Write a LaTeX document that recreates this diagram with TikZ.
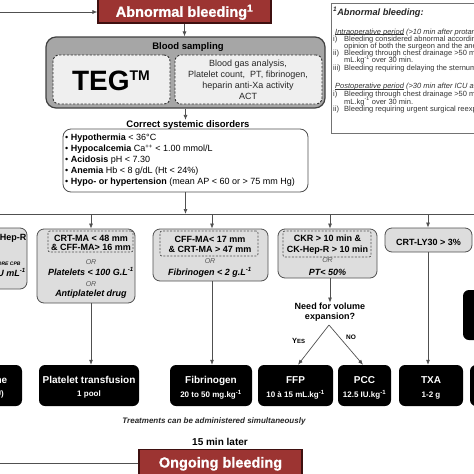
\documentclass[tikz,border=0pt]{standalone}
\usepackage{fontspec}
\setmainfont{Liberation Sans}
\newfontface\heavy{Liberation Sans Bold}[FakeBold=1.2]
\usetikzlibrary{arrows.meta}
\definecolor{redfill}{HTML}{9C3432}
\definecolor{redborder}{HTML}{3F1010}
\definecolor{condfill}{HTML}{DDDDDD}
\definecolor{linegray}{HTML}{505050}
\definecolor{outergray}{HTML}{A6A6A6}
\definecolor{innerfill}{HTML}{EFEFEF}
\definecolor{ortext}{HTML}{555555}
\newcommand\fs[2]{\fontsize{#1}{#2}\selectfont}
\newcommand\ulin[1]{\setbox0\hbox{#1}\rlap{\rule[-0.7pt]{\wd0}{0.35pt}}\box0\relax}
\begin{document}
\begin{tikzpicture}[x=1pt,y=-1pt,
  redbox/.style={draw=redborder, fill=redfill, line width=1.2pt, inner sep=0},
  notebox/.style={draw=black!55, fill=white, line width=0.8pt, inner sep=0},
  outerbox/.style={draw=black!75, fill=outergray, line width=1.2pt, rounded corners=10pt, inner sep=0},
  innerbox/.style={draw=black!80, fill=innerfill, line width=0.9pt, dash pattern=on 2.2pt off 1.6pt, rounded corners=6pt, inner sep=0},
  whitebox/.style={draw=linegray, fill=white, line width=0.8pt, rounded corners=8pt, inner sep=0},
  condbox/.style={draw=linegray, fill=condfill, line width=0.8pt, rounded corners=7pt, inner sep=0},
  dashbox/.style={draw=linegray, line width=0.7pt, dash pattern=on 2pt off 1.5pt, rounded corners=2pt, inner sep=0},
  blackbox/.style={fill=black, rounded corners=6pt, inner sep=0},
  txt/.style={inner sep=0, anchor=base},
  bold9/.style={txt, font=\bfseries\fs{9}{10}},
  bi9/.style={txt, font=\bfseries\itshape\fs{9}{10}},
  ortxt/.style={txt, font=\itshape\fs{7}{8}, text=ortext},
  ttl/.style={txt, font=\bfseries\fs{10}{11}, text=white},
  dose/.style={txt, font=\bfseries\fs{8}{9}, text=white},
  fnl/.style={txt, anchor=base west, font=\fs{7.5}{7.6}, text=black!80},
  line/.style={draw=linegray, line width=0.7pt},
  arr/.style={line, -{Latex[length=5pt,width=4pt]}}
]
\useasboundingbox (0,0) rectangle (474,474);
\clip (0,0) rectangle (474,474);

% top red box
\node[redbox, minimum width=173, minimum height=27] (ab) at (184.5,9.5) {};
\node[txt, font=\heavy\fs{14.5}{16}, text=white] (abt) at (184.5,16.8) {Abnormal bleeding\textsuperscript{1}};
\coordinate (loopT) at (-5,12);
\draw[arr] (loopT) -- (loopT -| ab.west);

% footnote box
\node[notebox, minimum width=150, minimum height=130, anchor=north west] (fn) at (331,3) {};
\node[txt, anchor=base west, font=\bfseries\itshape\fs{9.2}{10}, text=black!85] (fnt) at (333,15) {\textsuperscript{1}Abnormal bleeding:};
\node[fnl] (f1) at (335,34) {\itshape\ulin{Intraoperative period} (>10 min after protamine administration)};
\node[fnl] (f2a) at (333,41.5) {i)};
\node[fnl] (f2) at (344,41.5) {Bleeding considered abnormal according to the};
\node[fnl] (f3) at (344,48.5) {opinion of both the surgeon and the anesthesiologist.};
\node[fnl] (f4a) at (333,55.5) {ii)};
\node[fnl] (f4) at (344,55.5) {Bleeding through chest drainage >50 mL over 10 min or >2};
\node[fnl] (f5) at (344,62.7) {mL.kg\textsuperscript{-1} over 30 min.};
\node[fnl] (f6a) at (333,70) {iii)};
\node[fnl] (f6) at (344,70) {Bleeding requiring delaying the sternum closure.};
\node[fnl] (f7) at (335,88.5) {\itshape\ulin{Postoperative period} (>30 min after ICU admission)};
\node[fnl] (f8a) at (333,96.7) {i)};
\node[fnl] (f8) at (344,96.7) {Bleeding through chest drainage >50 mL over 10 min or >2};
\node[fnl] (f9) at (344,104) {mL.kg\textsuperscript{-1} over 30 min.};
\node[fnl] (f10a) at (333,111.5) {ii)};
\node[fnl] (f10) at (344,111.5) {Bleeding requiring urgent surgical reexploration.};

% blood sampling
\node[outerbox, minimum width=279, minimum height=71] (bs) at (185.5,72.5) {};
\node[txt, font=\bfseries\fs{9.5}{11}] (bst) at (188,49) {Blood sampling};
\node[innerbox, minimum width=117, minimum height=49] (teg) at (111.5,79.5) {};
\node[txt, font=\bfseries\fs{28}{30}] (tegt) at (111,90) {TEG\raisebox{10pt}{\fs{14}{14}TM}};
\node[innerbox, minimum width=147, minimum height=49] (info) at (248.5,79.5) {};
\node[font=\fs{9}{11}, align=center, inner sep=0, text=black!85] (infot) at (248,80) {Blood gas analysis,\\Platelet count,\ \ PT, fibrinogen,\\heparin anti-Xa activity\\ACT};
\draw[arr] (ab.south) -- (ab.south |- bs.north);

% correct systemic disorders
\node[txt, font=\bfseries\fs{9.5}{11}] (corr) at (188,127) {Correct systemic disorders};
\draw[arr] (bs.south) -- (bs.south |- corr.north);
\node[whitebox, minimum width=245, minimum height=63] (dis) at (185.5,160.5) {};
\node[font=\fs{9}{11}, align=left, anchor=west, inner sep=0] (dist) at (65,160.5) {%
\textbullet\ \textbf{Hypothermia} < 36°C\\
\textbullet\ \textbf{Hypocalcemia} Ca\textsuperscript{++} < 1.00 mmol/L\\
\textbullet\ \textbf{Acidosis} pH < 7.30\\
\textbullet\ \textbf{Anemia} Hb < 8 g/dL (Ht < 24\%)\\
\textbullet\ \textbf{Hypo- or hypertension} (mean AP < 60 or > 75 mm Hg)};

% horizontal distribution line
\coordinate (hlc) at (185.5,214);
\draw[arr] (dis.south) -- (hlc);
\coordinate (hlL) at (-5,214);
\coordinate (hlR) at (480,214);
\draw[line] (hlL) -- (hlR);
\coordinate (aB) at (91,214);
\coordinate (aC) at (212,214);
\coordinate (aD) at (330,214);
\coordinate (aE) at (428,214);
\coordinate (aY) at (298,214);
\coordinate (aN) at (363,214);

% condition boxes
\node[condbox, minimum width=87, minimum height=61] (cA) at (-16.5,258.5) {};
\node[condbox, minimum width=98, minimum height=74] (cB) at (86,266) {};
\node[condbox, minimum width=115, minimum height=52] (cC) at (210.5,255) {};
\node[condbox, minimum width=99, minimum height=49] (cD) at (327.5,253.5) {};
\node[condbox, minimum width=87, minimum height=24] (cE) at (428.5,240) {};
\node[dashbox, minimum width=85, minimum height=21] (dB) at (90.5,241.5) {};
\node[dashbox, minimum width=98, minimum height=25] (dC) at (209,243.5) {};
\node[dashbox, minimum width=88, minimum height=26] (dD) at (327,244) {};

\draw[arr] (aB) -- (aB |- cB.north);
\draw[arr] (aC) -- (aC |- cC.north);
\draw[arr] (aD) -- (aD |- cD.north);
\draw[arr] (aE) -- (aE |- cE.north);

% box A texts (cut)
\node[bold9, anchor=base east] (tA1) at (26.7,240.7) {CKR/CK-Hep-R};
\node[txt, anchor=base east, font=\bfseries\itshape\fs{5}{6}] (tA2) at (20.7,265) {RATIO BEFORE CPB};
\node[bi9, anchor=base east] (tA3) at (26,276) {anti-Xa > 0.1 IU mL\textsuperscript{-1}};

% box B texts
\node[bold9] (tB1) at (91,241.5) {CRT-MA < 48 mm};
\node[bold9] (tB2) at (91,250.5) {\& CFF-MA> 16 mm};
\node[ortxt] (tB3) at (91,264.5) {OR};
\node[bi9] (tB4) at (91,275) {Platelets < 100 G.L\textsuperscript{-1}};
\node[ortxt] (tB5) at (91,286) {OR};
\node[bi9] (tB6) at (91,296.5) {Antiplatelet drug};

% box C texts
\node[bold9] (tC1) at (210,242.5) {CFF-MA< 17 mm};
\node[bold9] (tC2) at (210,252.5) {\& CRT-MA > 47 mm};
\node[ortxt] (tC3) at (210,263.5) {OR};
\node[bi9] (tC4) at (210,275) {Fibrinogen < 2 g.L\textsuperscript{-1}};

% box D texts
\node[bold9] (tD1) at (327.5,241.7) {CKR > 10 min \&};
\node[bold9] (tD2) at (327.5,252.7) {CK-Hep-R > 10 min};
\node[ortxt] (tD3) at (327.5,262.7) {OR};
\node[bi9] (tD4) at (327.5,275) {PT< 50\%};

% box E text
\node[bold9] (tE1) at (428.5,245) {CRT-LY30 > 3\%};

% volume expansion
\node[bold9] (need1) at (330,309.3) {Need for volume};
\node[bold9] (need2) at (330,319.3) {expansion?};
\draw[arr] (aD |- cD.south) -- (aD |- need1.north);
\coordinate (apex) at (329,325);
\node[txt, font=\bfseries\fs{7.5}{8}] (yes) at (298.5,343) {Y{\fs{6}{7}ES}};
\node[txt, font=\bfseries\fs{6.5}{7}] (no) at (351,339.3) {NO};

% treatment boxes
\node[blackbox, minimum width=82, minimum height=41] (kA) at (-19,385.5) {};
\node[blackbox, minimum width=100, minimum height=41] (kB) at (89,385.5) {};
\node[blackbox, minimum width=82, minimum height=41] (kC) at (211,385.5) {};
\node[blackbox, minimum width=75, minimum height=41] (kD) at (295.5,385.5) {};
\node[blackbox, minimum width=53, minimum height=41] (kE) at (364.5,385.5) {};
\node[blackbox, minimum width=64, minimum height=41] (kF) at (431,385.5) {};
\node[blackbox, minimum width=60, minimum height=41] (kG) at (500,385.5) {};
\node[blackbox, minimum width=57, minimum height=50] (kH) at (491.5,315) {};

\node[ttl, anchor=base east] (kA1) at (7.5,383) {Protamine};
\node[dose, anchor=base east] (kA2) at (4,396) {(1 mg/100 IU)};
\node[ttl] (kB1) at (89,383) {Platelet transfusion};
\node[dose] (kB2) at (89,396) {1 pool};
\node[ttl] (kC1) at (211,383.5) {Fibrinogen};
\node[dose] (kC2) at (211,397) {20 to 50 mg.kg\textsuperscript{-1}};
\node[ttl] (kD1) at (295.5,383.5) {FFP};
\node[dose] (kD2) at (295.5,397) {10 à 15 mL.kg\textsuperscript{-1}};
\node[ttl] (kE1) at (364.5,383.5) {PCC};
\node[dose] (kE2) at (364.5,397) {12.5 IU.kg\textsuperscript{-1}};
\node[ttl] (kF1) at (431,383.5) {TXA};
\node[dose] (kF2) at (431,397) {1-2 g};

\draw[arr] (aB |- cB.south) -- (aB |- kB.north);
\draw[arr] (aC |- cC.south) -- (aC |- kC.north);
\draw[arr] (aE |- cE.south) -- (aE |- kF.north);
\draw[arr] (apex) -- (aY |- kD.north);
\draw[arr] (apex) -- (aN |- kE.north);

% bottom
\node[txt, font=\bfseries\itshape\fs{8}{9}, text=black!85] (simul) at (214,423.3) {Treatments can be administered simultaneously};
\node[txt, font=\bfseries\fs{10}{11}] (later) at (220,445) {15 min later};
\node[redbox, minimum width=163, minimum height=27] (og) at (220.5,463) {};
\node[txt, font=\heavy\fs{14.5}{16}, text=white] (ogt) at (220.5,467.5) {Ongoing bleeding};
\coordinate (loopB) at (-5,463);
\draw[line] (og.west) -- (loopB);
\end{tikzpicture}
\end{document}
